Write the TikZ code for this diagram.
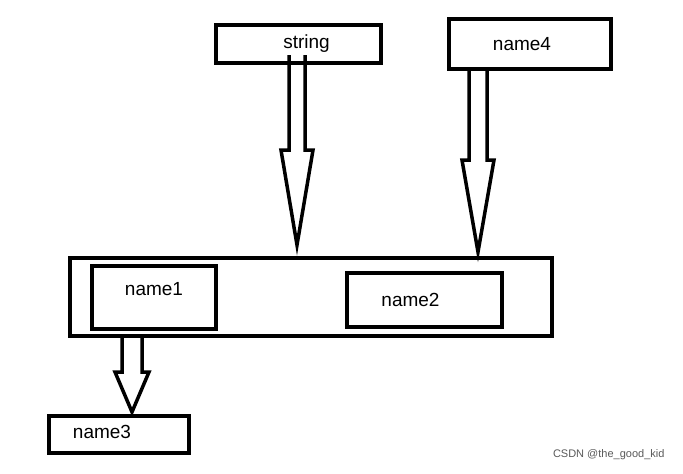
\documentclass[tikz,border=0pt]{standalone}
\usepackage{fontspec}
\setmainfont{Liberation Sans}
\usetikzlibrary{calc}
\tikzset{
  box/.style={draw, line width=4pt, inner sep=0pt, anchor=north west},
  lbl/.style={font=\fontsize{19}{20}\selectfont},
  hollow/.style={draw, line width=3.5pt, line join=miter},
}
% hollow arrow: x, shaft half width, head half width, top y, head y, tip y
\newcommand{\hollowarrow}[6]{%
  \draw[hollow] (#1-#2,#4) -- (#1-#2,#5) -- (#1-#3,#5) -- (#1,#6) -- (#1+#3,#5) -- (#1+#2,#5) -- (#1+#2,#4);
}
\begin{document}
\begin{tikzpicture}[x=1pt,y=1pt,yscale=-1]
  \useasboundingbox (0,0) rectangle (683,474);
  % boxes
  \node[box, minimum width=165pt, minimum height=38pt] (str) at (214,23) {};
  \node[lbl] at ($(str.center)+(8,0)$) {string};
  \node[box, minimum width=162pt, minimum height=50pt] (n4) at (447,17) {};
  \node[lbl] at ($(n4.center)+(-8,0)$) {name4};
  \node[box, minimum width=482pt, minimum height=78pt] (outer) at (68,256) {};
  \node[box, minimum width=124pt, minimum height=63pt] (n1) at (90,264) {};
  \node[lbl] at ($(n1.center)+(0,-8)$) {name1};
  \node[box, minimum width=155pt, minimum height=54pt] (n2) at (345,271) {};
  \node[lbl] at ($(n2.center)+(-14,0)$) {name2};
  \node[box, minimum width=140pt, minimum height=37pt] (n3) at (47,414) {};
  \node[lbl] at ($(n3.center)+(-17,-3)$) {name3};
  % arrows
  \hollowarrow{297}{8}{16}{55}{150}{245}
  \hollowarrow{478}{9}{16}{68}{160}{252}
  \hollowarrow{132}{10}{17}{335}{372}{412}
  % watermark
  \node[anchor=east, text=gray!70!black, font=\fontsize{11}{12}\selectfont] at (668,455) {CSDN @the\_good\_kid};
\end{tikzpicture}
\end{document}
